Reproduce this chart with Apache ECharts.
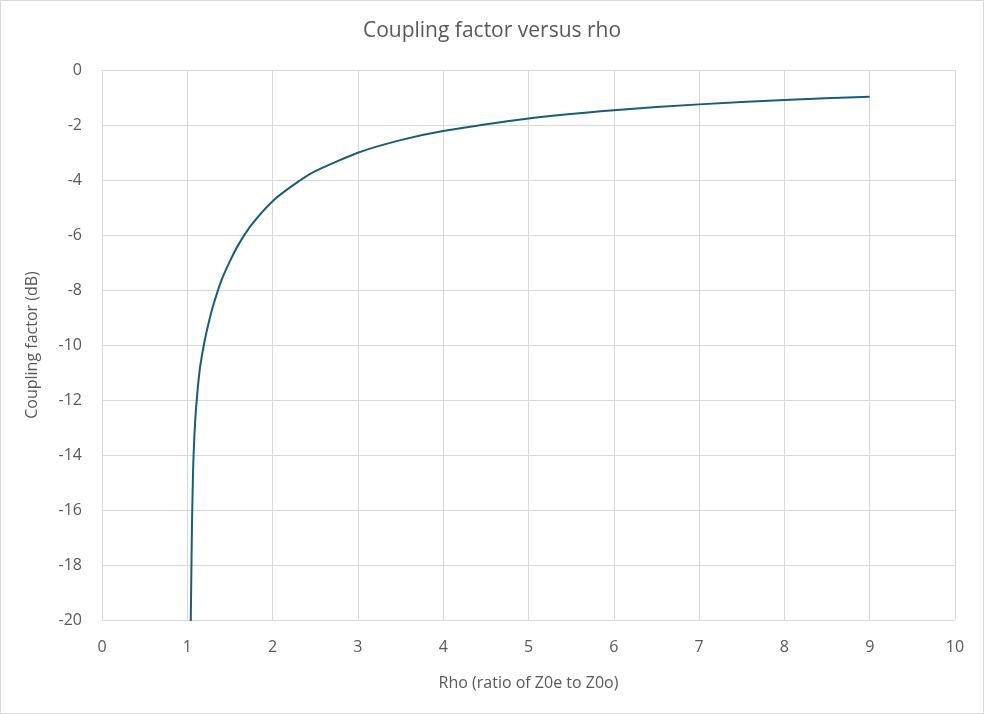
<!DOCTYPE html>
<html><head><meta charset="utf-8">
<script src="https://cdn.jsdelivr.net/npm/echarts@6/dist/echarts.min.js"></script>
<style>html,body{margin:0;padding:0;background:#fff}#c{width:984px;height:714px;box-sizing:border-box;border:1px solid #d9d9d9}</style>
</head><body><div id="c"></div>
<script>
const rho = [1.04,1.055,1.07,1.085,1.1,1.125,1.15,1.2,1.25,1.3,1.4,1.5,1.6,1.75,2,2.25,2.5,3,3.5,4,5,6,7,8,9];
const couplingDb = [-20.2,-16.5,-14.3,-13.2,-12.4,-11.5,-10.8,-9.9,-9.2,-8.6,-7.65,-6.95,-6.35,-5.64,-4.77,-4.17,-3.68,-3.01,-2.55,-2.22,-1.76,-1.46,-1.25,-1.09,-0.97];
const xTicks = [0,1,2,3,4,5,6,7,8,9,10];
const chart = echarts.init(document.getElementById('c'));
const txt = '#595959', grid = '#d9d9d9';
chart.setOption({
  animation:false,
  title:{text:'Coupling factor versus rho',left:'center',top:15,textStyle:{fontFamily:'Open Sans',fontSize:21,fontWeight:'normal',color:txt}},
  grid:{left:101,right:28,top:69,bottom:93},
  xAxis:{type:'value',min:0,max:10,interval:1,name:'Rho (ratio of Z0e to Z0o)',nameLocation:'middle',nameGap:55,
    nameTextStyle:{fontFamily:'Open Sans',fontSize:16,color:txt},
    axisLabel:{fontFamily:'Open Sans',fontSize:16,color:txt,margin:19,formatter:v=>xTicks.includes(v)?String(v):''},
    axisLine:{lineStyle:{color:grid}},axisTick:{show:false},splitLine:{lineStyle:{color:grid}}},
  yAxis:{type:'value',min:-20,max:0,interval:2,name:'Coupling factor (dB)',nameLocation:'middle',nameGap:62,
    nameTextStyle:{fontFamily:'Open Sans',fontSize:16,color:txt},
    axisLabel:{fontFamily:'Open Sans',fontSize:16,color:txt,margin:20},
    axisLine:{show:false},axisTick:{show:false},splitLine:{lineStyle:{color:grid}}},
  series:[{type:'line',data:rho.map((r,i)=>[r,couplingDb[i]]),smooth:0.2,showSymbol:false,clip:true,
    lineStyle:{color:'#1a5c7a',width:2}}]
});
</script></body></html>
